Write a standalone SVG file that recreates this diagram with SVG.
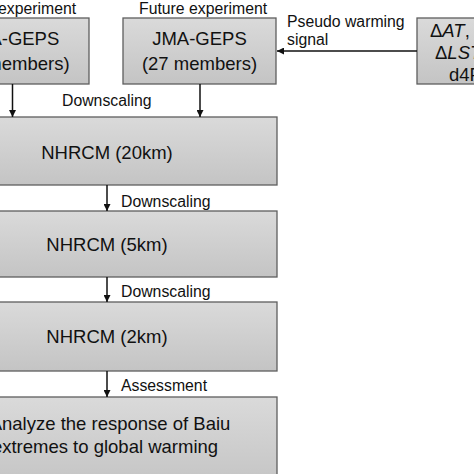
<svg xmlns="http://www.w3.org/2000/svg" width="474" height="474" viewBox="0 0 474 474">
<style>
text{font-family:"Liberation Sans",Arial,sans-serif;fill:#111}
.b{font-size:18.5px}
.s{font-size:15.8px}
.box{fill:url(#g);stroke:#5e5e5e;stroke-width:1.3}
.ln{stroke:#111;stroke-width:1.5;fill:none}
</style>
<defs>
<linearGradient id="g" x1="0" y1="0" x2="0" y2="1">
<stop offset="0" stop-color="#dadada"/>
<stop offset="1" stop-color="#c4c4c4"/>
</linearGradient>
<marker id="ah" viewBox="0 0 10 10" refX="10" refY="5" markerWidth="7" markerHeight="7" markerUnits="userSpaceOnUse" orient="auto">
<path d="M0,0L10,5L0,10z" fill="#111"/>
</marker>
</defs>
<rect width="474" height="474" fill="#fff"/>
<text class="s" x="-2" y="14">experiment</text>
<text class="s" x="139" y="14">Future experiment</text>
<text class="s" x="287" y="27">Pseudo warming</text>
<text class="s" x="287" y="45">signal</text>
<g id="present">
<rect class="box" x="-65" y="18" width="154" height="66"/>
<text class="b" x="12" y="45" text-anchor="middle">JMA-GEPS</text>
<text class="b" x="12" y="70" text-anchor="middle">(27 members)</text>
</g>
<g id="future">
<rect class="box" x="123" y="18" width="153" height="66"/>
<text class="b" x="199.5" y="45" text-anchor="middle">JMA-GEPS</text>
<text class="b" x="199.5" y="70" text-anchor="middle">(27 members)</text>
</g>
<g id="delta">
<rect class="box" x="417" y="18" width="153" height="66"/>
<text class="b" x="430" y="37">Δ<tspan font-style="italic">AT</tspan>,</text>
<text class="b" x="435" y="59">Δ<tspan font-style="italic">LST</tspan></text>
<text class="b" x="449" y="81">d4PDF</text>
</g>
<g id="n20">
<rect class="box" x="-63" y="117" width="340" height="68"/>
<text class="b" x="107" y="159" text-anchor="middle">NHRCM (20km)</text>
</g>
<g id="n5">
<rect class="box" x="-63" y="211" width="340" height="66"/>
<text class="b" x="107" y="251" text-anchor="middle">NHRCM (5km)</text>
</g>
<g id="n2">
<rect class="box" x="-63" y="302" width="340" height="69"/>
<text class="b" x="107" y="343" text-anchor="middle">NHRCM (2km)</text>
</g>
<g id="analyze">
<rect class="box" x="-63" y="397" width="340" height="90"/>
<text class="b" x="110" y="430" text-anchor="middle">Analyze the response of Baiu</text>
<text class="b" x="105" y="453" text-anchor="middle">extremes to global warming</text>
</g>
<g id="connectors">
<line class="ln" x1="12.5" y1="84" x2="12.5" y2="117" marker-end="url(#ah)"/>
<line class="ln" x1="200" y1="84" x2="200" y2="117" marker-end="url(#ah)"/>
<line class="ln" x1="417" y1="51" x2="277" y2="51" marker-end="url(#ah)"/>
<line class="ln" x1="107" y1="185" x2="107" y2="211" marker-end="url(#ah)"/>
<line class="ln" x1="107" y1="277" x2="107" y2="302" marker-end="url(#ah)"/>
<line class="ln" x1="107" y1="371" x2="107" y2="397" marker-end="url(#ah)"/>
<text class="s" x="62" y="106">Downscaling</text>
<text class="s" x="121" y="207">Downscaling</text>
<text class="s" x="121" y="297">Downscaling</text>
<text class="s" x="121" y="391">Assessment</text>
</g>
</svg>
